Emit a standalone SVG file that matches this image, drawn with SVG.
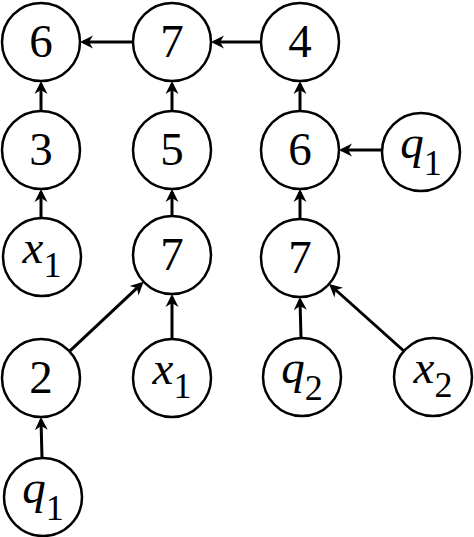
<svg xmlns="http://www.w3.org/2000/svg" width="474" height="537" viewBox="0 0 474 537">
<style>
.n{fill:#fff;stroke:#000;stroke-width:2.5}
.t{font-size:47px;fill:#000}
.v{font-style:italic}
.s{font-style:normal;font-size:36px}
.e{stroke:#000;stroke-width:3;fill:none;marker-end:url(#ah)}
</style>
<defs>
<marker id="ah" markerUnits="userSpaceOnUse" viewBox="-12 -8 16 16" refX="0" refY="0" markerWidth="16" markerHeight="16" orient="auto" overflow="visible">
<path d="M3,0 L-10,-6.5 L-6,0 L-10,6.5 Z" fill="#000"/>
</marker>
</defs>
<g id="connectors">
<line class="e" x1="133" y1="42" x2="83" y2="42"/>
<line class="e" x1="261" y1="42" x2="214" y2="42"/>
<line class="e" x1="41" y1="111" x2="41" y2="84"/>
<line class="e" x1="172" y1="111" x2="172" y2="84"/>
<line class="e" x1="300" y1="111" x2="300" y2="84"/>
<line class="e" x1="382" y1="150" x2="342" y2="150"/>
<line class="e" x1="41" y1="218" x2="41" y2="192"/>
<line class="e" x1="172" y1="216" x2="172" y2="192"/>
<line class="e" x1="300" y1="219" x2="300" y2="192"/>
<line class="e" x1="69.4" y1="351.3" x2="141.4" y2="283.8"/>
<line class="e" x1="172" y1="339" x2="172" y2="297"/>
<line class="e" x1="301" y1="338" x2="300" y2="300"/>
<line class="e" x1="403.9" y1="351" x2="331.3" y2="286"/>
<line class="e" x1="42" y1="458" x2="41" y2="420"/>
</g>
<g id="n6a"><circle class="n" cx="41" cy="42" r="39"/><text class="t" font-family="Liberation Serif, serif" text-anchor="middle" x="41" y="57">6</text></g>
<g id="n7a"><circle class="n" cx="172" cy="42" r="39"/><text class="t" font-family="Liberation Serif, serif" text-anchor="middle" x="172" y="57">7</text></g>
<g id="n4"><circle class="n" cx="300" cy="42" r="39"/><text class="t" font-family="Liberation Serif, serif" text-anchor="middle" x="300" y="57">4</text></g>
<g id="n3"><circle class="n" cx="41" cy="150" r="39"/><text class="t" font-family="Liberation Serif, serif" text-anchor="middle" x="41" y="165">3</text></g>
<g id="n5"><circle class="n" cx="172" cy="150" r="39"/><text class="t" font-family="Liberation Serif, serif" text-anchor="middle" x="172" y="165">5</text></g>
<g id="n6b"><circle class="n" cx="300" cy="150" r="39"/><text class="t" font-family="Liberation Serif, serif" text-anchor="middle" x="300" y="165">6</text></g>
<g id="nq1a"><circle class="n" cx="421" cy="152" r="39"/><text class="t" font-family="Liberation Serif, serif" text-anchor="middle" x="421" y="158"><tspan class="v" font-family="Liberation Serif, serif">q</tspan><tspan class="s" font-family="Liberation Serif, serif" dy="17">1</tspan></text></g>
<g id="nx1a"><circle class="n" cx="42" cy="257" r="39"/><text class="t" font-family="Liberation Serif, serif" text-anchor="middle" x="42" y="263"><tspan class="v" font-family="Liberation Serif, serif">x</tspan><tspan class="s" font-family="Liberation Serif, serif" dy="14">1</tspan></text></g>
<g id="n7b"><circle class="n" cx="172" cy="255" r="39"/><text class="t" font-family="Liberation Serif, serif" text-anchor="middle" x="172" y="270">7</text></g>
<g id="n7c"><circle class="n" cx="300" cy="258" r="39"/><text class="t" font-family="Liberation Serif, serif" text-anchor="middle" x="300" y="273">7</text></g>
<g id="n2"><circle class="n" cx="41" cy="378" r="39"/><text class="t" font-family="Liberation Serif, serif" text-anchor="middle" x="41" y="393">2</text></g>
<g id="nx1b"><circle class="n" cx="172" cy="378" r="39"/><text class="t" font-family="Liberation Serif, serif" text-anchor="middle" x="172" y="384"><tspan class="v" font-family="Liberation Serif, serif">x</tspan><tspan class="s" font-family="Liberation Serif, serif" dy="14">1</tspan></text></g>
<g id="nq2"><circle class="n" cx="302" cy="377" r="39"/><text class="t" font-family="Liberation Serif, serif" text-anchor="middle" x="302" y="383"><tspan class="v" font-family="Liberation Serif, serif">q</tspan><tspan class="s" font-family="Liberation Serif, serif" dy="17">2</tspan></text></g>
<g id="nx2"><circle class="n" cx="433" cy="377" r="39"/><text class="t" font-family="Liberation Serif, serif" text-anchor="middle" x="433" y="383"><tspan class="v" font-family="Liberation Serif, serif">x</tspan><tspan class="s" font-family="Liberation Serif, serif" dy="14">2</tspan></text></g>
<g id="nq1b"><circle class="n" cx="43" cy="497" r="39"/><text class="t" font-family="Liberation Serif, serif" text-anchor="middle" x="43" y="503"><tspan class="v" font-family="Liberation Serif, serif">q</tspan><tspan class="s" font-family="Liberation Serif, serif" dy="17">1</tspan></text></g>
</svg>
